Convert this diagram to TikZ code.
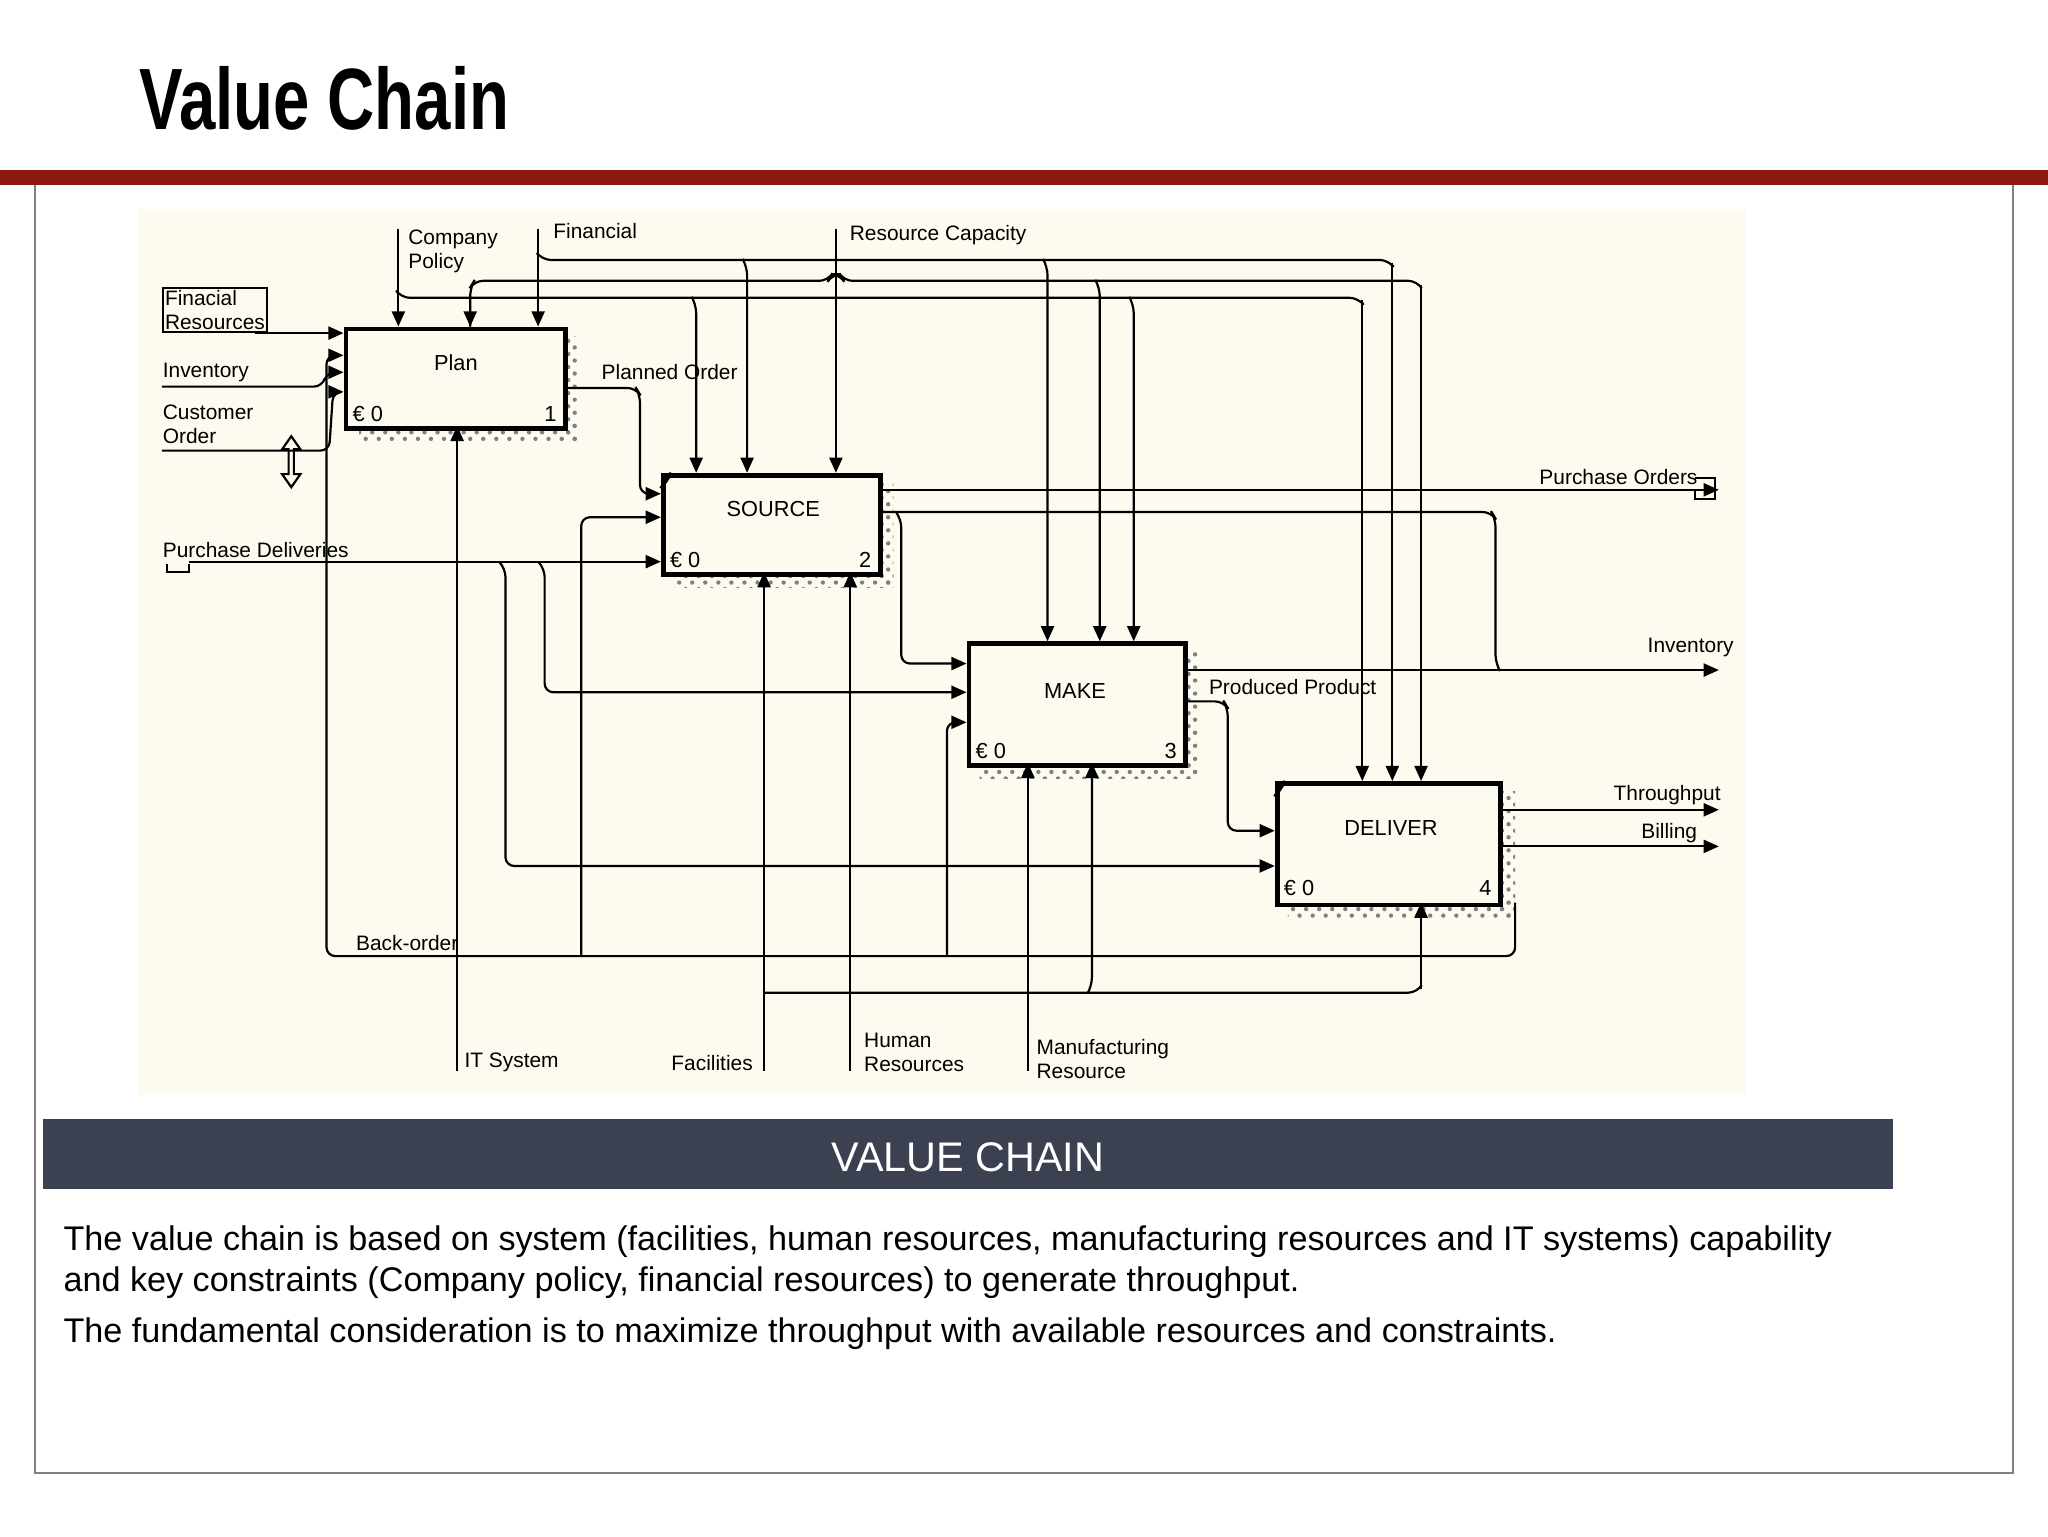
\documentclass[tikz,border=0pt]{standalone}
\usepackage{fontspec}
\setmainfont{Liberation Sans}
\usetikzlibrary{arrows.meta,patterns}
\definecolor{rule}{HTML}{8B1A10}
\definecolor{cream}{HTML}{FDFBF0}
\definecolor{banner}{HTML}{3B4150}
\begin{document}
\begin{tikzpicture}[x=0.3pt,y=-0.3pt,
  box/.style={draw,line width=1.1pt,fill=cream},
  shad/.style={pattern=crosshatch dots,pattern color=gray},
  con/.style={line width=0.5pt,rounded corners=2pt},
  ar/.style={con,-{Triangle[length=3.5pt,width=3pt]}},
  lab/.style={font=\fontsize{4.8}{5.6}\selectfont,inner sep=0pt,align=left},
  inlab/.style={font=\fontsize{5}{6}\selectfont,inner sep=1pt}]
\useasboundingbox (0,0) rectangle (1568,1176);
\fill[white] (0,0) rectangle (1568,1176);
\node[anchor=west,font=\fontsize{20}{24}\bfseries\selectfont,inner sep=0pt,xscale=0.75] (title) at (106,75) {Value Chain};
\fill[rule] (0,130) rectangle (1568,142);
\draw[gray,line width=0.5pt] (27,142) -- (27,1128) -- (1541,1128) -- (1541,142);
\fill[cream] (105,160) rectangle (1337,838);
% shadows
\foreach \a/\b/\c/\d in {431/258/443/338, 275/326/443/338, 672/370/684/450, 516/438/684/450, 906/499/918/596, 750/584/918/596, 1147/606/1160/703, 986/691/1160/703}
  \fill[shad] (\a,\b) rectangle (\c,\d);
% boxes
\node[box,minimum width=168*0.3pt,minimum height=76*0.3pt,anchor=north west] (plan) at (263,250) {};
\node[box,minimum width=166*0.3pt,minimum height=76*0.3pt,anchor=north west] (source) at (506,362) {};
\node[box,minimum width=166*0.3pt,minimum height=93*0.3pt,anchor=north west] (make) at (740,491) {};
\node[box,minimum width=171*0.3pt,minimum height=93*0.3pt,anchor=north west] (deliver) at (976,598) {};
\node[inlab] at (349,278) {Plan};
\node[inlab] at (592,390) {SOURCE};
\node[inlab] at (823,529) {MAKE};
\node[inlab] at (1065,634) {DELIVER};
\foreach \x/\y in {266/317, 509/429, 743/575, 979/680}{
  \node[inlab,anchor=west] at (\x,\y) {€ 0};}
\node[inlab,anchor=east] at (430,317) {1};
\node[inlab,anchor=east] at (671,429) {2};
\node[inlab,anchor=east] at (905,575) {3};
\node[inlab,anchor=east] at (1146,680) {4};
\foreach \x/\y in {506/362, 976/598}{\draw[line width=0.8pt] (\x,\y+12) -- (\x+8,\y);}
% labels
\node[lab,anchor=north west] (cp) at (312,175) {Company\\Policy};
\node[lab,anchor=north west] (fin) at (423,170) {Financial};
\node[lab,anchor=north west] (rc) at (650,172) {Resource Capacity};
\node[lab,anchor=north west,draw,inner sep=0.5pt] (fr) at (124,220) {Finacial\\Resources};
\node[lab,anchor=west] (inv) at (124,285) {Inventory};
\node[lab,anchor=north west] (co) at (124,309) {Customer\\Order};
\node[lab,anchor=west] (pd) at (124,421) {Purchase Deliveries};
\node[lab,anchor=west] (po) at (460,285) {Planned Order};
\node[lab,anchor=west] (pur) at (1178,365) {Purchase Orders};
\node[lab,anchor=east] (invo) at (1328,496) {Inventory};
\node[lab,anchor=west] (pp) at (925,526) {Produced Product};
\node[lab,anchor=east] (thr) at (1318,609) {Throughput};
\node[lab,anchor=east] (bil) at (1300,638) {Billing};
\node[lab,anchor=west] (bo) at (272,722) {Back-order};
\node[lab,anchor=west] (its) at (355,813) {IT System};
\node[lab,anchor=east] (fac) at (577,814) {Facilities};
\node[lab,anchor=north west] (hr) at (661,790) {Human\\Resources};
\node[lab,anchor=north west] (mr) at (793,795) {Manufacturing\\Resource};
% tunnel marks
\draw[line width=0.5pt] (128,432) -- (128,438) -- (145,438) -- (145,432);
\draw[line width=0.5pt] (1298,366) -- (1313,366) -- (1313,382) -- (1298,382) -- (1298,376);
% double arrow (hollow)
\draw[line width=0.5pt,fill=cream] (223,334) -- (230,344) -- (225,344) -- (225,363) -- (230,363) -- (223,373) -- (216,363) -- (221,363) -- (221,344) -- (216,344) -- cycle;
% left inputs to plan
\draw[ar] (195,255) -- (plan.west |- 0,255);
\draw[ar] (124,296) -- (247,296) -- (250,285) -- (plan.west |- 0,285);
\draw[ar] (124,345) -- (252,345) -- (255,300) -- (plan.west |- 0,300);
% back-order loop
\draw[ar] (1160,691) -- (1160,732) -- (250,732) -- (250,272) -- (plan.west |- 0,272);
\draw[ar] (445,732) -- (445,396) -- (source.west |- 0,396);
\draw[ar] (725,732) -- (725,553) -- (make.west |- 0,553);
% top controls
\draw[ar] (305,175) -- (305,250);
\draw[con] (305,225) -- (307,228) -- (1040,228) -- (1043,232);
\draw[ar] (1043,230) -- (1043,598);
\draw[ar] (530,228) -- (533,233) -- (533,362);
\draw[ar] (865,228) -- (868,233) -- (868,491);
\draw[ar] (412,175) -- (412,250);
\draw[con] (412,195) -- (415,199) -- (1063,199) -- (1066,203);
\draw[ar] (1066,201) -- (1066,598);
\draw[ar] (569,199) -- (572,204) -- (572,362);
\draw[ar] (799,199) -- (802,204) -- (802,491);
\draw[ar] (640,175) -- (640,362);
\draw[con] (360,250) -- (360,220) -- (363,215) -- (634,215) -- (637,210) -- (643,210) -- (646,215) -- (1085,215) -- (1088,220);
\draw[ar] (360,225) -- (360,250);
\draw[ar] (1088,218) -- (1088,598);
\draw[ar] (839,215) -- (842,220) -- (842,491);
% plan -> source
\draw[ar] (plan.east |- 0,297) -- (487,297) -- (490,302) -- (490,378) -- (source.west |- 0,378);
% purchase deliveries
\draw[ar] (145,430) -- (source.west |- 0,430);
\draw[ar] (382,430) -- (387,435) -- (387,663) -- (deliver.west |- 0,663);
\draw[ar] (412,430) -- (417,435) -- (417,530) -- (make.west |- 0,530);
% source outputs
\draw[ar] (source.east |- 0,375) -- (1316,375);
\draw[con] (source.east |- 0,392) -- (1142,392) -- (1145,397) -- (1145,508) -- (1148,513);
\draw[ar] (686,392) -- (690,397) -- (690,508) -- (make.west |- 0,508);
% make outputs
\draw[ar] (make.east |- 0,513) -- (1316,513);
\draw[ar] (make.east |- 0,537) -- (937,537) -- (940,542) -- (940,636) -- (deliver.west |- 0,636);
% deliver outputs
\draw[ar] (deliver.east |- 0,620) -- (1316,620);
\draw[ar] (deliver.east |- 0,648) -- (1316,648);
% mechanisms
\draw[ar] (350,820) -- (350,326);
\draw[ar] (585,820) -- (585,438);
\draw[ar] (651,820) -- (651,438);
\draw[ar] (787,820) -- (787,584);
\draw[con] (585,760) -- (1085,760) -- (1088,755);
\draw[ar] (1088,757) -- (1088,691);
\draw[ar] (833,760) -- (836,755) -- (836,584);
% banner and text
\fill[banner] (33,857) rectangle (1449,910);
\node[text=white,font=\fontsize{9.5}{11}\selectfont] (bt) at (741,886) {VALUE CHAIN};
\node[anchor=north west,align=left,inner sep=0pt,font=\fontsize{7.85}{9.3}\selectfont] (body) at (48,938)
 {The value chain is based on system (facilities, human resources, manufacturing resources and IT systems) capability\\
 and key constraints (Company policy, financial resources) to generate throughput.};
\node[anchor=north west,inner sep=0pt,font=\fontsize{7.85}{9.3}\selectfont] (body2) at (48,1008)
 {The fundamental consideration is to maximize throughput with available resources and constraints.};
\end{tikzpicture}
\end{document}
